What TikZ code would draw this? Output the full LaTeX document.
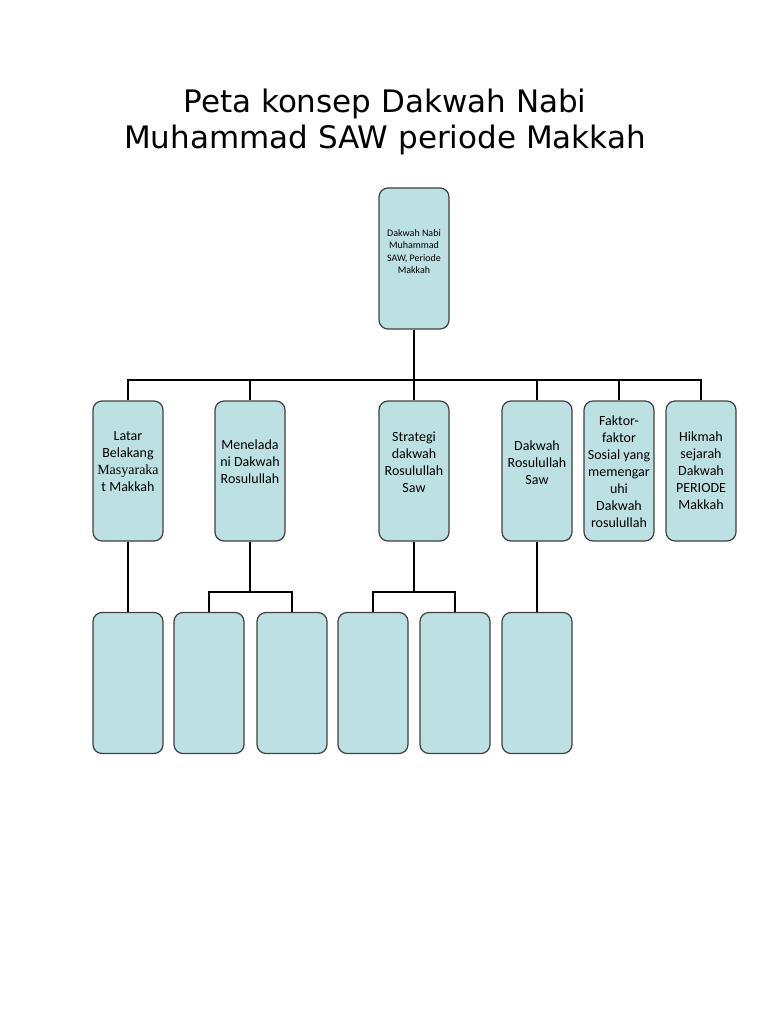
\documentclass[tikz,border=0pt]{standalone}
\usepackage{fontspec}
\setmainfont{Carlito}
\newfontfamily\titlefont{DejaVu Sans}
\newfontfamily\serifx{Liberation Serif}
\begin{document}
\begin{tikzpicture}[x=1pt,y=-1pt,
  box/.style={draw=black!75, line width=1.2pt, fill=boxfill, rounded corners=9pt,
    minimum width=70pt, minimum height=140pt, inner sep=0pt},
  txt/.style={align=center, inner sep=0pt, font=\fontsize{14}{17}\selectfont},
  conn/.style={draw=black, line width=2.8pt}]
\definecolor{boxfill}{HTML}{BDE0E3}
\useasboundingbox[fill=white] (0,0) rectangle (768,1024);
% title
\node[font=\titlefont\fontsize{31}{36}\selectfont, align=center] (title) at (385,122)
  {Peta konsep Dakwah Nabi\\Muhammad SAW periode Makkah};
% top
\node[box, minimum height=141pt] (top) at (414,258.5) {};
\node[txt, font=\fontsize{10}{12.3}\selectfont] (toptxt) at ([yshift=7pt]top.center)
  {Dakwah Nabi\\Muhammad\\SAW, Periode\\Makkah};
% row 2
\node[box] (n1) at (128,471) {};
\node[box] (n2) at (250,471) {};
\node[box] (n3) at (414,471) {};
\node[box] (n4) at (537,471) {};
\node[box] (n5) at (619,471) {};
\node[box] (n6) at (701,471) {};
\node[txt] (t1) at ([yshift=9pt]n1.center) {Latar\\Belakang\\{\serifx Masyaraka}\\t Makkah};
\node[txt] (t2) at ([yshift=9pt]n2.center) {Menelada\\ni Dakwah\\Rosulullah};
\node[txt] (t3) at ([yshift=9pt]n3.center) {Strategi\\dakwah\\Rosulullah\\Saw};
\node[txt] (t4) at ([yshift=8pt]n4.center) {Dakwah\\Rosulullah\\Saw};
\node[txt] (t5) at ([yshift=-1pt]n5.center) {Faktor-\\faktor\\Sosial yang\\memengar\\uhi\\Dakwah\\rosulullah};
\node[txt] (t6) at (n6.center) {Hikmah\\sejarah\\Dakwah\\PERIODE\\Makkah};
% row 3
\node[box, minimum height=141pt] (m1) at (128,683) {};
\node[box, minimum height=141pt] (m2) at (209,683) {};
\node[box, minimum height=141pt] (m3) at (292,683) {};
\node[box, minimum height=141pt] (m4) at (373,683) {};
\node[box, minimum height=141pt] (m5) at (455,683) {};
\node[box, minimum height=141pt] (m6) at (537,683) {};
% connectors
\coordinate (bus) at (414,380);
\coordinate (b2) at (250,592);
\coordinate (b3) at (414,592);
\path[conn] (top.south) -- (bus);
\path[conn] (n1.north) |- (bus);
\path[conn] (n2.north) -- (n2.north |- bus);
\path[conn] (n3.north) -- (bus);
\path[conn] (n4.north) -- (n4.north |- bus);
\path[conn] (n5.north) -- (n5.north |- bus);
\path[conn] (n6.north) |- (bus);
\path[conn] (n1.south) -- (m1.north);
\path[conn] (n2.south) -- (b2);
\path[conn] (m2.north) |- (m3.north |- b2) -- (m3.north);
\path[conn] (n3.south) -- (b3);
\path[conn] (m4.north) |- (m5.north |- b3) -- (m5.north);
\path[conn] (n4.south) -- (m6.north);
\end{tikzpicture}
\end{document}
